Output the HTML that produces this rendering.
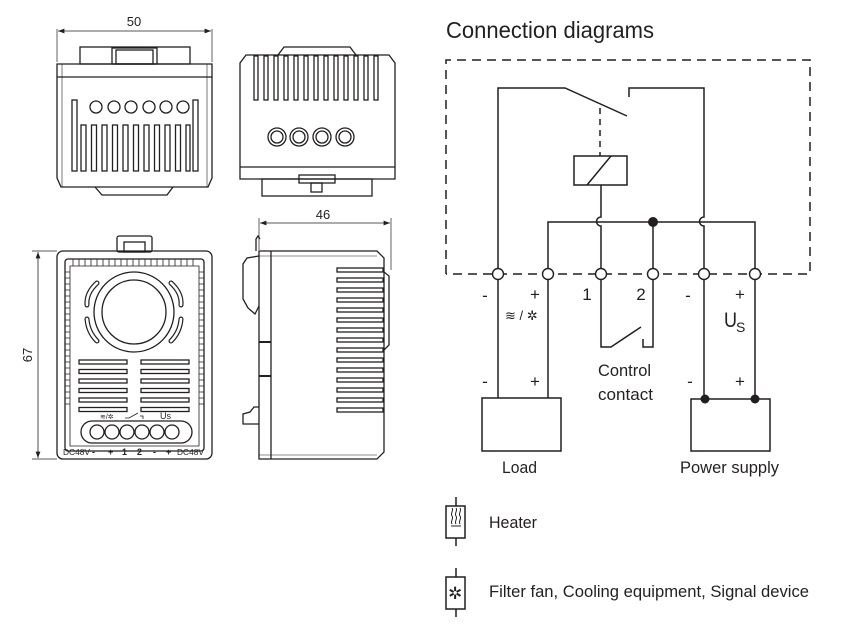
<!DOCTYPE html>
<html><head><meta charset="utf-8"><style>
html,body{margin:0;padding:0;background:#fff;}
svg{display:block;}
text{font-family:"Liberation Sans Narrow","Liberation Sans",sans-serif;fill:#231f20;}
</style></head><body>
<svg width="861" height="633" viewBox="0 0 861 633" xmlns="http://www.w3.org/2000/svg">
<defs>
<marker id="ar" markerWidth="8" markerHeight="6" refX="8" refY="3" orient="auto-start-reverse"><path d="M0,0 L8,3 L0,6 z" fill="#231f20"/></marker>
</defs>
<g stroke="#231f20" stroke-width="1.3" fill="none">
<!-- ===== Top-left view ===== -->
<line x1="57" y1="29" x2="57" y2="62" stroke-width="0.7"/>
<line x1="212" y1="29" x2="212" y2="62" stroke-width="0.7"/>
<line x1="58" y1="31" x2="211" y2="31" stroke-width="0.8" marker-start="url(#ar)" marker-end="url(#ar)"/>
<rect x="80" y="47" width="110" height="17"/>
<rect x="112" y="48" width="45" height="16"/>
<rect x="116" y="50" width="37" height="14"/>
<path d="M57,64 H212 V178 L208,187 H61 L57,178 Z"/>
<line x1="57" y1="77" x2="212" y2="77"/>
<line x1="62" y1="64" x2="62" y2="187" stroke-width="0.6"/>
<line x1="207" y1="64" x2="207" y2="187" stroke-width="0.6"/>
<path d="M95,187 L102,195 H167 L173,187"/>
<g>
<circle cx="96" cy="107" r="6"/><circle cx="114" cy="107" r="6"/><circle cx="131" cy="107" r="6"/><circle cx="149" cy="107" r="6"/><circle cx="166" cy="107" r="6"/><circle cx="183" cy="107" r="6"/>
</g>
<rect x="72" y="100" width="5" height="71"/>
<rect x="193" y="100" width="5" height="71"/>
<g>
<rect x="81" y="125" width="5" height="46"/><rect x="91.5" y="125" width="5" height="46"/><rect x="102" y="125" width="5" height="46"/><rect x="112.5" y="125" width="5" height="46"/><rect x="123" y="125" width="5" height="46"/><rect x="133.5" y="125" width="5" height="46"/><rect x="144" y="125" width="5" height="46"/><rect x="154.5" y="125" width="5" height="46"/><rect x="165" y="125" width="5" height="46"/><rect x="175.5" y="125" width="5" height="46"/><rect x="186" y="125" width="4" height="46"/>
</g>
<!-- ===== Top-right view ===== -->
<path d="M278,55 L284,47 H350 L356,55"/>
<path d="M240,63 L246,55 H389 L395,63 V179 H240 Z"/>
<line x1="240" y1="167" x2="395" y2="167"/>
<g>
<rect x="254" y="56" width="4" height="44"/><rect x="264" y="56" width="4" height="44"/><rect x="274" y="56" width="4" height="44"/><rect x="284" y="56" width="4" height="44"/><rect x="294" y="56" width="4" height="44"/><rect x="304" y="56" width="4" height="44"/><rect x="314" y="56" width="4" height="44"/><rect x="324" y="56" width="4" height="44"/><rect x="334" y="56" width="4" height="44"/><rect x="344" y="56" width="4" height="44"/><rect x="354" y="56" width="4" height="44"/><rect x="364" y="56" width="4" height="44"/><rect x="374" y="56" width="4" height="44"/>
</g>
<circle cx="277" cy="137" r="9"/><circle cx="277" cy="137" r="6"/>
<circle cx="299" cy="137" r="9"/><circle cx="299" cy="137" r="6"/>
<circle cx="322" cy="137" r="9"/><circle cx="322" cy="137" r="6"/>
<circle cx="345" cy="137" r="9"/><circle cx="345" cy="137" r="6"/>
<rect x="262" y="179" width="110" height="17"/>
<rect x="299" y="175" width="36" height="8"/>
<rect x="311" y="183" width="11" height="9"/>
<!-- ===== Front view ===== -->
<line x1="32" y1="251" x2="57" y2="251" stroke-width="0.7"/>
<line x1="32" y1="459" x2="57" y2="459" stroke-width="0.7"/>
<line x1="38" y1="252" x2="38" y2="458" stroke-width="0.8" marker-start="url(#ar)" marker-end="url(#ar)"/>
<rect x="117" y="236" width="35" height="16" rx="2"/>
<rect x="124" y="242" width="21" height="10"/>
<rect x="57" y="251" width="155" height="208" rx="6"/>
<rect x="65" y="259" width="139" height="192" rx="3"/>
<path d="M70,266 H199 V446 H70 Z" stroke-width="0.8"/>
<g stroke-width="0.8">
<path d="M73,259v7M79,259v7M85,259v7M91,259v7M97,259v7M103,259v7M109,259v7M115,259v7M121,259v7M127,259v7M133,259v7M139,259v7M145,259v7M151,259v7M157,259v7M163,259v7M169,259v7M175,259v7M181,259v7M187,259v7M193,259v7"/>
<path d="M65,272h5M65,278h5M65,284h5M65,290h5M65,296h5M65,302h5M65,308h5M65,314h5M65,320h5M65,326h5M65,332h5M65,338h5M65,344h5M65,350h5M65,356h5M65,362h5M65,368h5M65,374h5M65,380h5M65,386h5M65,392h5M65,398h5M65,404h5"/>
<path d="M199,272h5M199,278h5M199,284h5M199,290h5M199,296h5M199,302h5M199,308h5M199,314h5M199,320h5M199,326h5M199,332h5M199,338h5M199,344h5M199,350h5M199,356h5M199,362h5M199,368h5M199,374h5M199,380h5M199,386h5M199,392h5M199,398h5M199,404h5"/>
</g>
<circle cx="134" cy="312" r="40"/>
<circle cx="134" cy="312" r="32"/>
<path d="M97,283 Q86,293 87,305" stroke-width="5" stroke-linecap="round"/>
<path d="M97,283 Q86,293 87,305" stroke-width="2.6" stroke="#fff" stroke-linecap="round"/>
<path d="M87,319 Q88,332 97,341" stroke-width="5" stroke-linecap="round"/>
<path d="M87,319 Q88,332 97,341" stroke-width="2.6" stroke="#fff" stroke-linecap="round"/>
<path d="M171,283 Q182,293 181,305" stroke-width="5" stroke-linecap="round"/>
<path d="M171,283 Q182,293 181,305" stroke-width="2.6" stroke="#fff" stroke-linecap="round"/>
<path d="M181,319 Q180,332 171,341" stroke-width="5" stroke-linecap="round"/>
<path d="M181,319 Q180,332 171,341" stroke-width="2.6" stroke="#fff" stroke-linecap="round"/>
<g>
<rect x="79" y="360" width="48" height="4"/><rect x="79" y="369.5" width="48" height="4"/><rect x="79" y="379" width="48" height="4"/><rect x="79" y="388.5" width="48" height="4"/><rect x="79" y="398" width="48" height="4"/><rect x="79" y="407.5" width="48" height="4"/>
<rect x="141" y="360" width="48" height="4"/><rect x="141" y="369.5" width="48" height="4"/><rect x="141" y="379" width="48" height="4"/><rect x="141" y="388.5" width="48" height="4"/><rect x="141" y="398" width="48" height="4"/><rect x="141" y="407.5" width="48" height="4"/>
</g>
<path d="M125,418 h4 l9,-5 M140,416 h3 v3" stroke-width="0.8"/>
<rect x="81" y="421" width="111" height="22" rx="11"/>
<circle cx="97" cy="432" r="7"/><circle cx="112" cy="432" r="7"/><circle cx="127" cy="432" r="7"/><circle cx="142" cy="432" r="7"/><circle cx="157" cy="432" r="7"/><circle cx="172" cy="432" r="7"/>
<!-- ===== Side view ===== -->
<line x1="259" y1="218" x2="259" y2="250" stroke-width="0.7"/>
<line x1="391" y1="218" x2="391" y2="270" stroke-width="0.7"/>
<line x1="260" y1="223" x2="390" y2="223" stroke-width="0.8" marker-start="url(#ar)" marker-end="url(#ar)"/>
<path d="M259,251 H377 L384,258 V452 L377,459 H259 Z"/>
<line x1="271" y1="251" x2="271" y2="459"/>
<line x1="259" y1="256" x2="377" y2="256" stroke-width="0.6"/>
<line x1="259" y1="455" x2="377" y2="455" stroke-width="0.6"/>
<path d="M256,251 V239 L258,236 L260,239"/>
<path d="M259,256 L247,258 L243,264 V299 L248,308 L255,314 L259,306"/>
<path d="M259,407 H254 L250,412 L243,414 V424 H259"/>
<line x1="259" y1="342" x2="271" y2="342" stroke-width="2"/>
<line x1="259" y1="376" x2="271" y2="376" stroke-width="2"/>
<path d="M384,272 L389,276 V345 L384,350"/>
<g>
<rect x="337" y="268" width="46" height="4"/><rect x="337" y="278" width="46" height="4"/><rect x="337" y="288" width="46" height="4"/><rect x="337" y="298" width="46" height="4"/><rect x="337" y="308" width="46" height="4"/><rect x="337" y="318" width="46" height="4"/><rect x="337" y="328" width="46" height="4"/><rect x="337" y="338" width="46" height="4"/><rect x="337" y="348" width="46" height="4"/><rect x="337" y="358" width="46" height="4"/><rect x="337" y="368" width="46" height="4"/><rect x="337" y="378" width="46" height="4"/><rect x="337" y="388" width="46" height="4"/><rect x="337" y="398" width="46" height="4"/><rect x="337" y="408" width="46" height="4"/>
</g>
</g>
<g font-size="13">
<text x="134" y="26" text-anchor="middle">50</text>
<text x="323" y="219" text-anchor="middle">46</text>
<text x="32" y="355" text-anchor="middle" transform="rotate(-90 32 355)">67</text>
</g>
<g font-size="9" font-weight="bold">
<text x="100" y="419" font-size="7" font-weight="normal">≋/✲</text>
<text x="160" y="419" font-size="9" font-weight="normal">Us</text>
<text x="63" y="455" font-size="8" font-weight="normal" textLength="27" lengthAdjust="spacingAndGlyphs">DC48V</text>
<text x="92" y="455">-</text><text x="108" y="455">+</text><text x="122" y="455">1</text><text x="137" y="455">2</text><text x="153" y="455">-</text><text x="166" y="455">+</text>
<text x="177" y="455" font-size="8" font-weight="normal" textLength="27" lengthAdjust="spacingAndGlyphs">DC48V</text>
</g>

<!-- ===== Connection diagram ===== -->
<text x="446" y="38" font-size="23" textLength="208" lengthAdjust="spacingAndGlyphs">Connection diagrams</text>
<g stroke="#231f20" stroke-width="1.5" fill="none">
<path d="M446,274 V60 H810 V274 H446" stroke-dasharray="9,6"/>
<path d="M498,268 V88 H565 L627,116"/>
<path d="M629,97 V88 H704 V217 a4,4 0 0 0 0,9 V268"/>
<line x1="600" y1="108" x2="600" y2="156" stroke-dasharray="6,5"/>
<rect x="574" y="156" width="53" height="29"/>
<line x1="587" y1="185" x2="611" y2="156"/>
<path d="M601,185 V217 a4,4 0 0 0 0,9 V268"/>
<path d="M548,268 V222 H755 V268"/>
<line x1="653" y1="222" x2="653" y2="268"/>
<path d="M498,280 V398 M548,280 V398"/>
<path d="M601,280 V347 H611 L641,327 M643,339 V347 H653 V280"/>
<path d="M704,280 V399 M755,280 V399"/>
<rect x="482" y="398" width="79" height="53"/>
<rect x="691" y="399" width="79" height="52"/>
<rect x="446" y="506" width="19" height="32"/>
<path d="M456,497 V506 M456,538 V546"/>
<rect x="446" y="577" width="19" height="32"/>
<path d="M456,568 V577 M456,609 V617"/>
<path d="M451,526 h10 M452,524 c-2,-3 2,-5 0,-8 c-2,-3 2,-5 0,-8 M456,524 c-2,-3 2,-5 0,-8 c-2,-3 2,-5 0,-8 M460,524 c-2,-3 2,-5 0,-8 c-2,-3 2,-5 0,-8" stroke-width="1"/>
</g>
<g fill="#fff" stroke="#231f20" stroke-width="1.4">
<circle cx="498" cy="274" r="5.5"/><circle cx="548" cy="274" r="5.5"/><circle cx="601" cy="274" r="5.5"/><circle cx="653" cy="274" r="5.5"/><circle cx="704" cy="274" r="5.5"/><circle cx="755" cy="274" r="5.5"/>
</g>
<g fill="#231f20">
<circle cx="653" cy="222" r="5"/>
<circle cx="705" cy="399" r="4.5"/><circle cx="755" cy="399" r="4.5"/>
</g>
<g font-size="17">
<text x="485" y="301" text-anchor="middle">-</text>
<text x="535" y="300" text-anchor="middle">+</text>
<text x="587" y="300" text-anchor="middle">1</text>
<text x="641" y="300" text-anchor="middle">2</text>
<text x="688" y="301" text-anchor="middle">-</text>
<text x="740" y="300" text-anchor="middle">+</text>
<text x="485" y="387" text-anchor="middle">-</text>
<text x="535" y="387" text-anchor="middle">+</text>
<text x="690" y="387" text-anchor="middle">-</text>
<text x="740" y="387" text-anchor="middle">+</text>
<text x="505" y="320" font-size="13">≋ / ✲</text>
<text x="724" y="327" font-size="21" textLength="13" lengthAdjust="spacingAndGlyphs">U</text><text x="736" y="332" font-size="14">S</text>
<text x="598" y="376" textLength="53" lengthAdjust="spacingAndGlyphs">Control</text>
<text x="598" y="400" textLength="55" lengthAdjust="spacingAndGlyphs">contact</text>
<text x="502" y="473" textLength="35" lengthAdjust="spacingAndGlyphs">Load</text>
<text x="680" y="473" textLength="99" lengthAdjust="spacingAndGlyphs">Power supply</text>
<text x="489" y="528" textLength="48" lengthAdjust="spacingAndGlyphs">Heater</text>
<text x="489" y="597" textLength="320" lengthAdjust="spacingAndGlyphs">Filter fan, Cooling equipment, Signal device</text>
<text x="448" y="599" font-size="17">✲</text>
</g>
</svg>
</body></html>
